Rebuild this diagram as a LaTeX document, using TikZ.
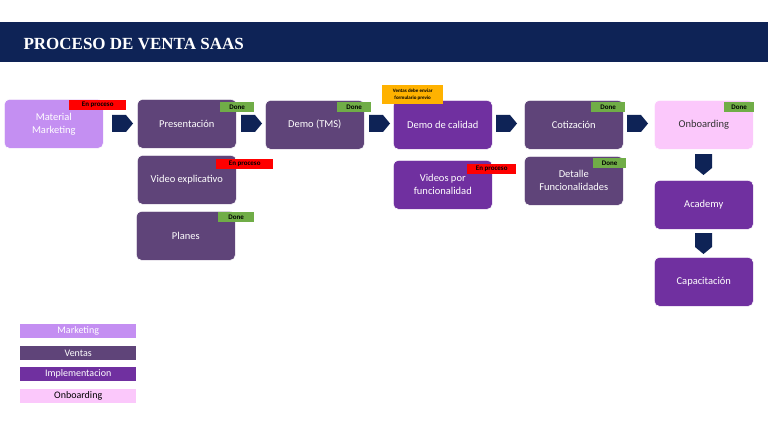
\documentclass[tikz,border=0pt]{standalone}
\usepackage{fontspec}
\setmainfont{Carlito}
\newfontfamily\titlefont{Liberation Serif}
\definecolor{navy}{HTML}{0E2356}
\definecolor{mkt}{HTML}{C48FF2}
\definecolor{ven}{HTML}{5F4479}
\definecolor{imp}{HTML}{7030A0}
\definecolor{onb}{HTML}{FBC8FB}
\definecolor{done}{HTML}{70AD47}
\begin{document}
\begin{tikzpicture}[x=1pt,y=-1pt,
 box/.style={draw=white,line width=0.6pt,rounded corners=5pt,minimum width=99pt,minimum height=49pt,inner sep=0pt,anchor=north west,align=center,font=\fontsize{10.5}{13}\selectfont,text=white},
 tag/.style={anchor=north west,inner sep=0pt,font=\bfseries\fontsize{7}{8}\selectfont,minimum height=10pt},
 red/.style={tag,fill=red,text=black,minimum width=57pt},
 dn/.style={tag,fill=done,text=black,minimum width=34pt},
 leg/.style={anchor=north west,inner sep=0pt,minimum width=116pt,minimum height=14pt,font=\fontsize{10}{12}\selectfont,text=white},
 chev/.style={fill=navy}]
\useasboundingbox (0,0) rectangle (768,433);
\fill[white] (0,0) rectangle (768,433);
\fill[navy] (0,22) rectangle (768,62);
\node[anchor=west,text=white,font=\titlefont\bfseries\fontsize{17}{20}\selectfont] (title) at (20,44) {PROCESO DE VENTA SAAS};
% boxes
\node[box,fill=mkt] (mm) at (4,99) {Material\\Marketing};
\node[box,fill=ven] (pres) at (137,99) {Presentación};
\node[box,fill=ven] (tms) at (265,100) {Demo (TMS)};
\node[box,fill=imp] (cal) at (393,100) {Demo de calidad};
\node[box,fill=ven] (cot) at (524,100) {Cotización};
\node[box,fill=onb,text=black!80] (onb) at (654,100) {Onboarding};
\node[box,fill=ven] (vid) at (137,155) {Video explicativo};
\node[box,fill=ven] (pla) at (136,211) {Planes};
\node[box,fill=imp] (vfun) at (393,160) {Videos por\\funcionalidad};
\node[box,fill=ven] (det) at (524,156) {Detalle\\Funcionalidades};
\node[box,fill=imp] (aca) at (654,180) {Academy};
\node[box,fill=imp] (cap) at (654,257) {Capacitación};
% chevrons
\foreach \x in {112,241,369,496,627}{
 \fill[chev] (\x,115) -- (\x+14,115) -- (\x+21,123.5) -- (\x+14,132) -- (\x,132) -- cycle;}
\foreach \y in {154,233}{
 \fill[chev] (695,\y) -- (712,\y) -- (712,\y+14) -- (703.5,\y+21) -- (695,\y+14) -- cycle;}
% tags
\node[red] (t1) at (69,100) {En proceso};
\node[dn] (t2) at (220,102) {Done};
\node[dn] (t3) at (337,102) {Done};
\node[anchor=north west,inner sep=0pt,fill=orange!60!yellow,minimum width=61pt,minimum height=19pt,align=center,font=\bfseries\fontsize{5}{6.5}\selectfont] (t4) at (382,85) {Ventas debe enviar\\formulario previo};
\node[dn] (t5) at (591,102) {Done};
\node[dn,minimum width=30pt] (t6) at (724,102) {Done};
\node[red] (t7) at (216,159) {En proceso};
\node[dn,minimum width=36pt] (t8) at (218,212) {Done};
\node[red,minimum width=49pt] (t9) at (467,164) {En proceso};
\node[dn,minimum width=33pt] (t10) at (593,158) {Done};
% legend
\node[leg,fill=mkt] (l1) at (20,324) {Marketing};
\node[leg,fill=ven] (l2) at (20,346) {Ventas};
\node[leg,fill=imp] (l3) at (20,367) {Implementacion};
\node[leg,fill=onb,text=black] (l4) at (20,389) {Onboarding};
\end{tikzpicture}
\end{document}
